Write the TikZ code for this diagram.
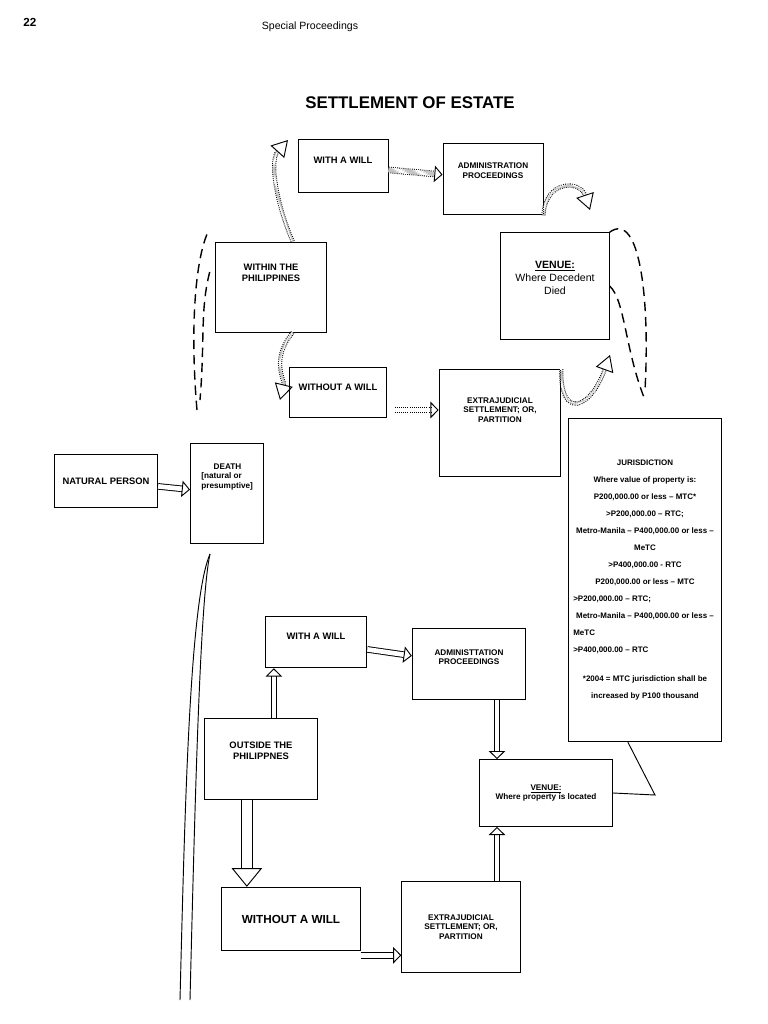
\documentclass[tikz,border=0pt]{standalone}
\usepackage{fontspec}
\setmainfont{Liberation Sans}
\usetikzlibrary{arrows.meta, positioning, calc}

\tikzset{
  box/.style={draw, thick, align=center, inner sep=2pt, font=\bfseries\footnotesize},
  hollow/.style={double, double distance=4pt, thick, -{Triangle[open, length=7pt, width=14pt]}},
  bighollow/.style={double, double distance=9pt, thick, -{Triangle[open, length=16pt, width=26pt]}},
  dothollow/.style={hollow, densely dotted},
  dotcurve/.style={densely dotted, double, double distance=2pt, thick, -{Triangle[open]}},
  dashcurve/.style={dashed, very thick, dash pattern=on 8pt off 5pt}
}

\begin{document}
\begin{tikzpicture}[x=0.03cm, y=-0.03cm]
            \useasboundingbox (0,0) rectangle (768,1024);

            % page header and title
            \node[font=\bfseries] (page) at (30,22) {22};
            \node[font=\small\scshape] (head) at (310,27) {Special Proceedings};
            \node[font=\bfseries\Large] (title) at (410,103) {SETTLEMENT OF ESTATE};

            % boxes
            \node[box, minimum width=3.1cm, minimum height=1.6cm] (person) at (106,481) {NATURAL PERSON};
            \node[box, minimum width=2.2cm, minimum height=3.0cm, anchor=north west, align=left, font=\bfseries\scriptsize, text depth=30pt] (death) at (190,443) {\hspace{1.5em}DEATH\\ {[}natural or\\ presumptive{]}};
            \node[box, minimum width=3.35cm, minimum height=2.7cm, text depth=25pt] (within) at (271,287) {WITHIN THE\\ PHILIPPINES};
            \node[box, minimum width=2.7cm, minimum height=1.6cm, text depth=10pt] (willA) at (343,166) {WITH A WILL};
            \node[box, minimum width=3.0cm, minimum height=2.15cm, text depth=14pt, font=\bfseries\scriptsize] (adminA) at (493,179) {ADMINISTRATION\\ PROCEEDINGS};
            \node[box, minimum width=3.25cm, minimum height=3.2cm, font=\small, text depth=14pt] (venueA) at (555,286) {\underline{\textbf{VENUE:}}\\ \mdseries Where Decedent\\ \mdseries Died};
            \node[box, minimum width=2.9cm, minimum height=1.5cm, text depth=8pt] (nowillA) at (338,392) {WITHOUT A WILL};
            \node[box, minimum width=3.65cm, minimum height=3.2cm, text depth=22pt, font=\bfseries\scriptsize] (extraA) at (500,423) {EXTRAJUDICIAL\\ SETTLEMENT; OR,\\ PARTITION};
            \node[box, minimum width=4.6cm, minimum height=9.7cm, font=\bfseries\fontsize{6.8}{14.5}\selectfont, align=center, inner sep=1pt] (juris) at (645,580) {JURISDICTION\\ Where value of property is:\\ P200,000.00 or less -- MTC*\\ {>}P200,000.00 -- RTC;\\ Metro-Manila -- P400,000.00 or less --\\ MeTC\\ {>}P400,000.00 - RTC\\ P200,000.00 or less -- MTC\\ \makebox[4.3cm][l]{{>}P200,000.00 -- RTC;}\\ Metro-Manila -- P400,000.00 or less --\\ \makebox[4.3cm][l]{MeTC}\\ \makebox[4.3cm][l]{{>}P400,000.00 -- RTC}\\[10pt] *2004 = MTC jurisdiction shall be\\ increased by P100 thousand};
            \node[box, minimum width=3.05cm, minimum height=1.55cm, text depth=10pt] (willB) at (316,642) {WITH A WILL};
            \node[box, minimum width=3.4cm, minimum height=2.15cm, text depth=12pt, font=\bfseries\scriptsize] (adminB) at (469,664) {ADMINISTTATION\\ PROCEEDINGS};
            \node[box, minimum width=3.4cm, minimum height=2.45cm, text depth=14pt] (outside) at (261,759) {OUTSIDE THE\\ PHILIPPNES};
            \node[box, minimum width=4.0cm, minimum height=2.0cm, font=\bfseries\scriptsize] (venueB) at (546,793) {\underline{VENUE:}\\ Where property is located};
            \node[box, minimum width=4.15cm, minimum height=1.9cm, font=\bfseries\normalsize] (nowillB) at (291,919) {WITHOUT A WILL};
            \node[box, minimum width=3.55cm, minimum height=2.75cm, font=\bfseries\scriptsize] (extraB) at (461,927) {EXTRAJUDICIAL\\ SETTLEMENT; OR,\\ PARTITION};

            % upper flow
            \draw[hollow] (person) -- (death);
            \draw[dothollow] (willA) -- (adminA);
            \draw[dothollow] (nowillA.east |- extraA.west) ++(8,-13) coordinate (n1) (n1) -- (extraA.west |- n1);
            \draw[dotcurve] (within.north west) ++(78,0) coordinate (w1) (w1) .. controls (275,200) and (270,160) .. (288,140);
            \draw[dotcurve] (within.south west) ++(78,0) coordinate (w2) (w2) .. controls (270,360) and (285,380) .. (280,400);
            \draw[dotcurve] (adminA.south east) .. controls (545,180) and (580,180) .. (590,210);
            \draw[dotcurve] (extraA.north east) .. controls (560,420) and (590,410) .. (610,355);

            % dashed links
            \draw[dashcurve] (death.north west) ++(0,0) coordinate (d1) (197,410) .. controls (190,330) and (195,260) .. (208,232);
            \draw[dashcurve] (within.west) ++(-5,-15) coordinate (d2) (d2) .. controls (200,310) and (205,340) .. (200,400);
            \draw[dashcurve] (venueA.north east) .. controls (640,210) and (650,300) .. (645,390);
            \draw[dashcurve] (venueA.east) .. controls (625,300) and (625,350) .. (645,400);

            % death to outside
            \draw[thick] (death.south west) ++(20,10) coordinate (d3) (d3) .. controls (190,600) and (185,800) .. (180,1000);
            \draw[thick] (death.south west) ++(20,10) .. controls (200,600) and (195,800) .. (190,1000);

            % jurisdiction callout
            \draw[thick] (juris.south west) ++(60,0) coordinate (j1) (j1) -- (655,795) -- (venueB.east);

            % lower flow
            \draw[hollow] (outside.north west) ++(70,0) coordinate (o1) (o1) -- (o1 |- willB.south);
            \draw[hollow] (willB) -- (adminB);
            \draw[hollow] (adminB.south) ++(28,0) coordinate (a1) (a1) -- (a1 |- venueB.north);
            \draw[bighollow] (outside.south west) ++(43,0) coordinate (o2) (o2) -- (o2 |- nowillB.north);
            \draw[hollow] (nowillB.east |- extraB.south) ++(0,-18) coordinate (n2) (n2) -- (extraB.west |- n2);
            \draw[hollow] (extraB.north) ++(36,0) coordinate (e1) (e1) -- (e1 |- venueB.south);
          \end{tikzpicture}
\end{document}
